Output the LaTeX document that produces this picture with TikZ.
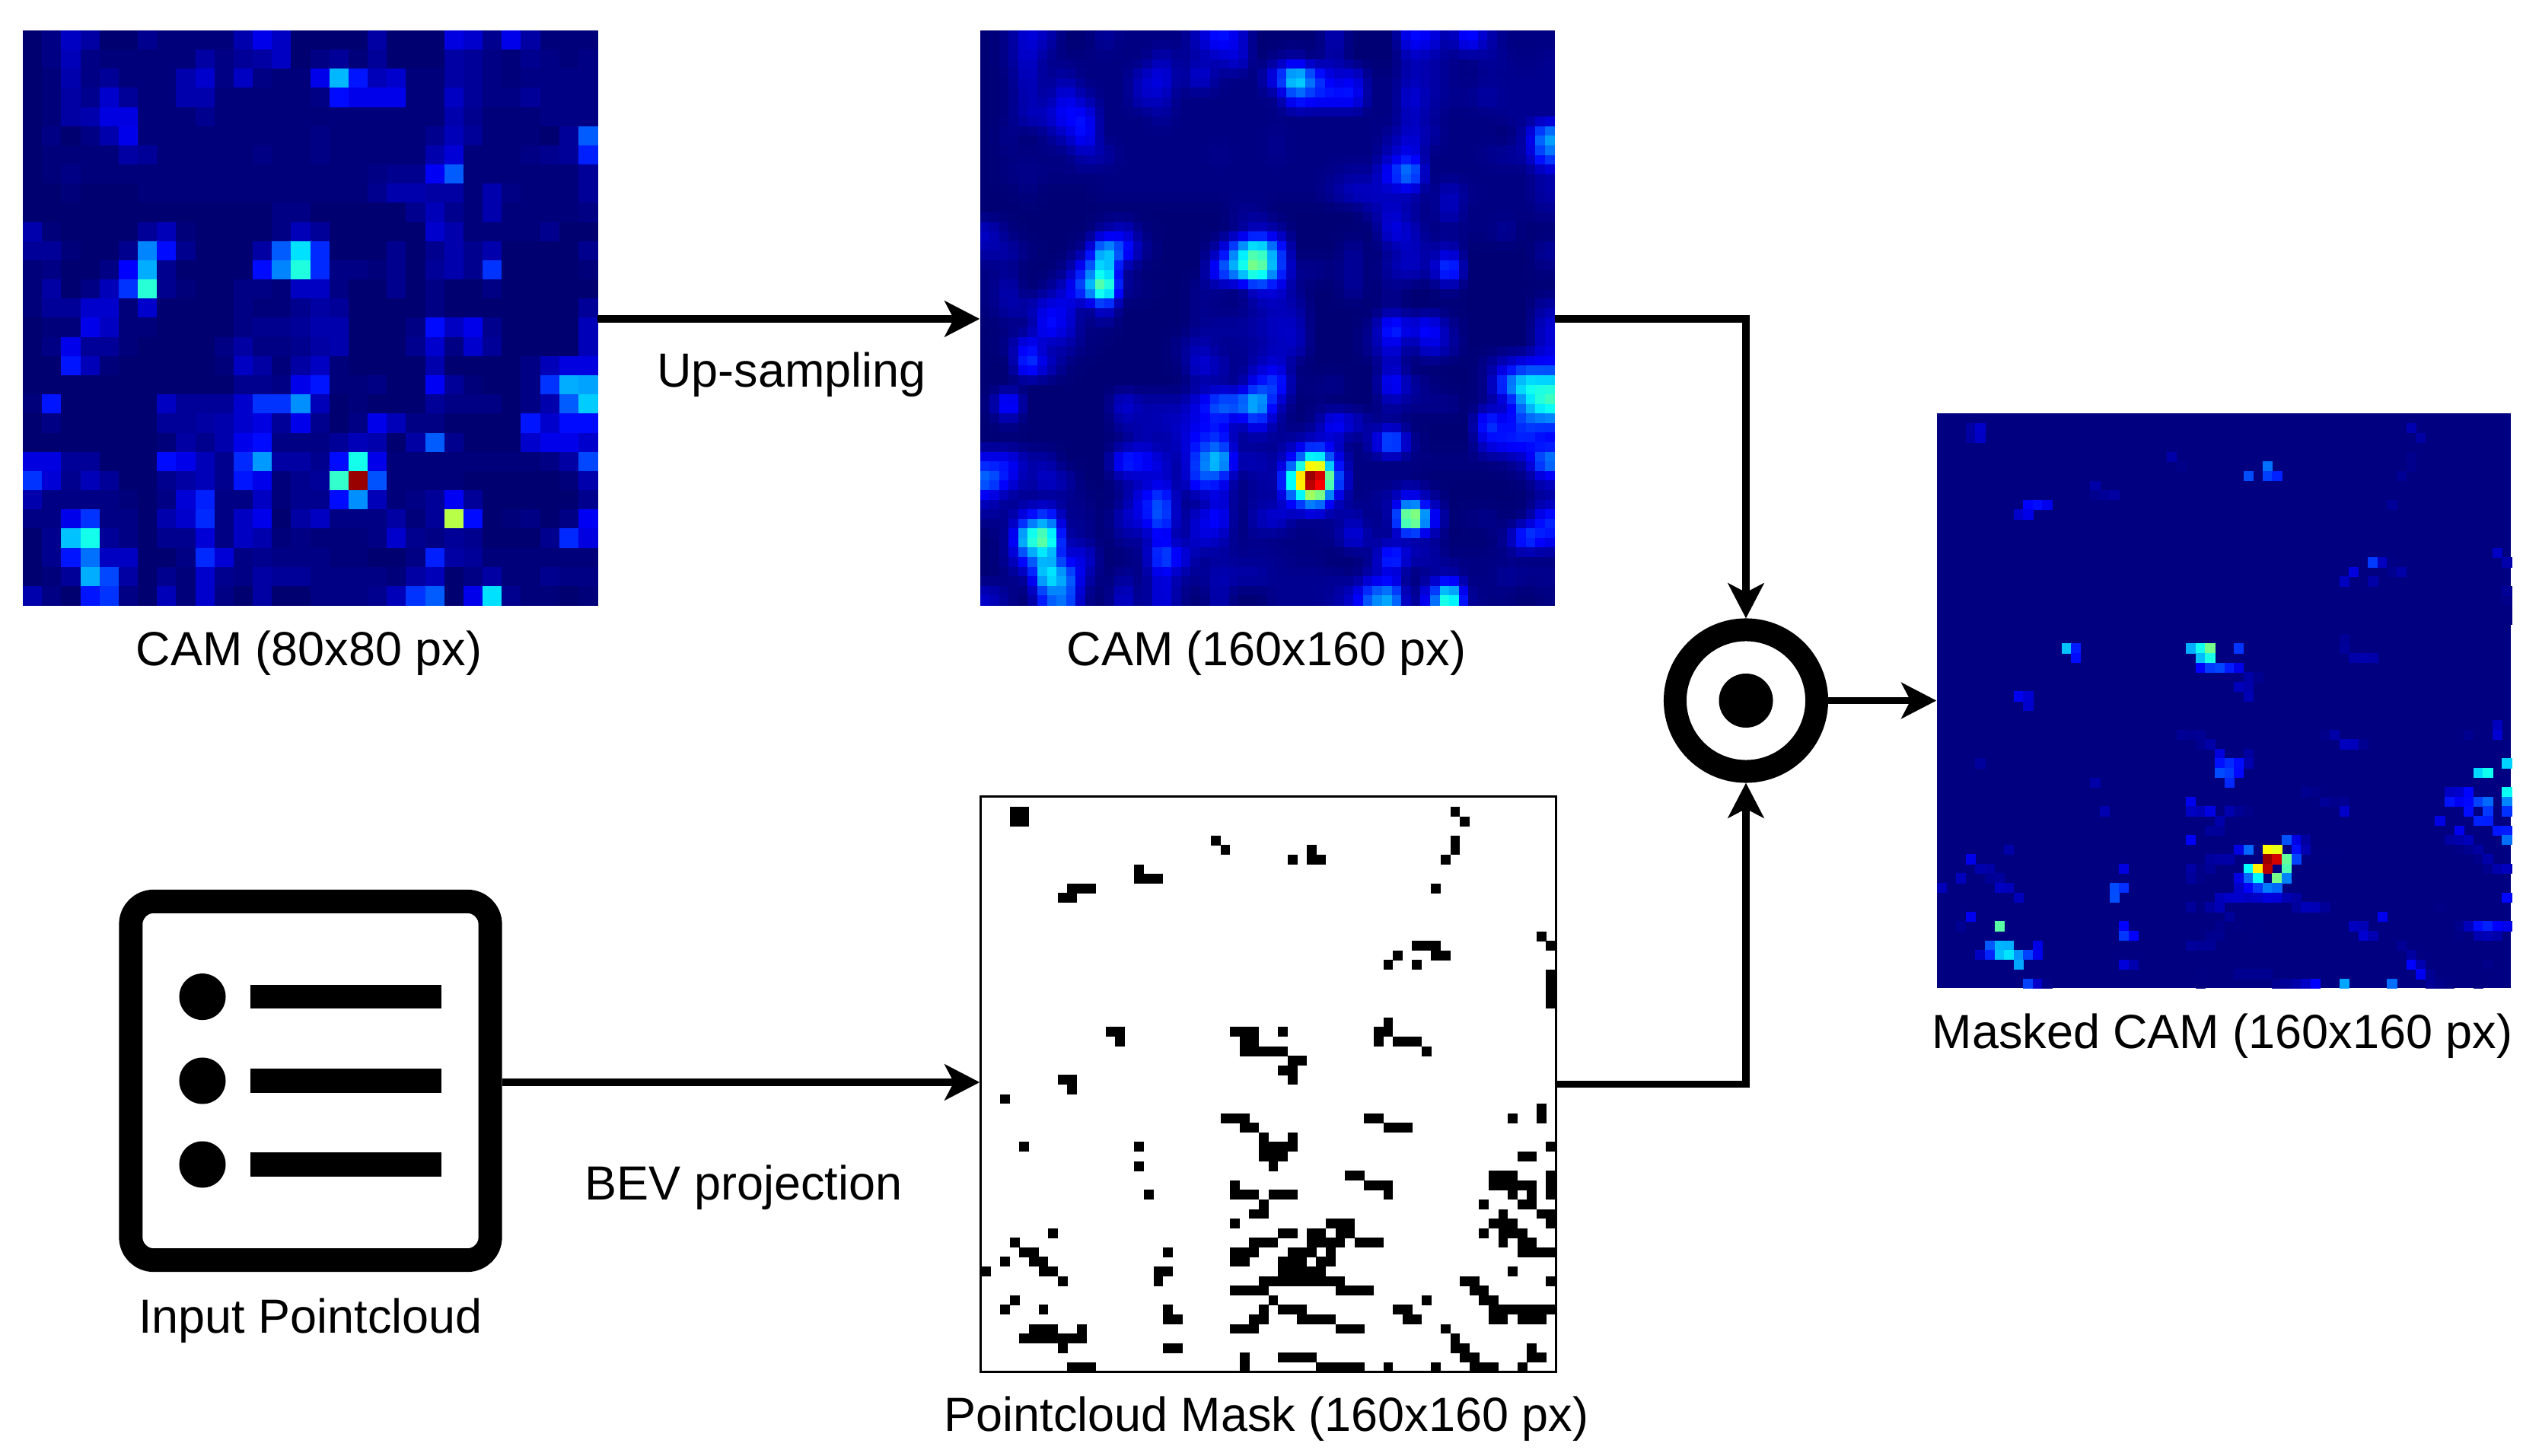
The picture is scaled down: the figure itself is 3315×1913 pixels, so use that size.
\documentclass[tikz,border=0pt]{standalone}
\usepackage{fontspec}
\setmainfont{Liberation Sans}
\usepackage{xcolor}
\usepackage{tikz}
\usetikzlibrary{arrows.meta}

% low resolution map, row by row, in percent
\newcommand{\camrows}{
{1,3,9,6,1,1,4,2,2,2,2,7,13,9,1,1,1,1,6,1,1,1,12,10,4,13,6,2,2,2},
{1,3,8,3,2,2,2,2,2,6,3,5,6,9,1,3,5,2,5,1,1,1,6,5,3,2,4,3,2,3},
{1,2,7,3,5,2,2,2,7,10,3,9,3,2,2,13,33,17,8,10,2,2,6,5,3,2,3,3,3,3},
{1,2,6,4,10,5,2,2,7,7,2,2,2,2,2,3,16,13,13,13,2,2,9,5,3,3,5,3,3,3},
{1,2,6,7,12,12,2,2,2,4,2,2,2,2,2,2,2,2,2,2,2,2,7,4,2,2,2,3,3,3},
{1,3,1,3,7,13,2,2,2,2,2,2,2,2,2,3,2,2,2,2,2,4,8,5,2,2,2,1,5,24},
{1,2,2,2,2,6,5,2,2,2,2,2,3,2,2,3,2,2,2,2,2,7,11,2,2,2,3,4,5,18},
{1,2,3,2,2,2,2,2,2,2,2,2,2,2,2,2,2,2,3,4,4,14,24,2,2,2,2,2,2,5},
{1,1,2,1,1,1,2,2,2,2,2,2,2,2,2,2,2,2,4,7,7,6,6,2,7,3,2,2,2,5},
{1,1,1,1,1,1,1,1,1,1,1,1,1,3,3,1,1,1,1,1,4,8,4,2,7,2,2,2,2,3},
{7,2,1,1,1,1,5,8,2,1,1,1,1,3,8,5,1,1,1,1,1,10,7,2,2,2,2,4,1,1},
{5,5,2,1,1,4,28,16,4,1,1,1,6,24,37,19,1,1,1,4,1,4,7,4,7,1,1,1,1,4},
{2,3,1,1,3,15,32,4,1,1,1,1,16,28,43,19,3,3,2,4,1,5,7,4,20,1,1,1,1,2},
{2,6,1,3,8,20,44,4,2,1,1,3,3,2,9,9,3,1,1,4,1,3,1,1,3,1,1,1,1,1},
{2,5,5,10,10,2,10,1,1,1,1,3,2,2,4,6,5,1,1,1,1,3,1,1,1,1,1,1,1,5},
{1,2,2,13,9,2,2,1,1,1,1,3,4,4,5,7,7,1,1,1,3,16,9,13,4,1,1,1,1,8},
{1,3,13,5,5,2,1,1,1,1,3,6,3,3,4,6,7,1,1,1,4,10,3,10,5,1,1,1,1,8},
{1,1,17,8,2,1,1,1,1,1,2,9,6,2,6,9,2,1,1,1,1,7,1,1,1,1,3,8,12,12},
{1,1,1,1,1,1,1,1,1,1,1,4,4,3,13,17,2,2,3,1,1,14,5,2,1,1,3,20,32,31},
{2,17,1,1,1,1,1,9,5,5,5,10,20,20,29,8,1,2,1,1,1,5,3,3,3,1,3,7,24,35},
{1,3,1,1,1,1,1,5,5,6,7,10,12,5,13,4,1,3,13,8,3,3,1,1,1,1,17,10,16,16},
{1,1,1,1,1,1,1,2,6,4,7,13,16,3,3,3,5,8,7,1,6,24,4,1,1,1,10,13,13,10},
{12,12,5,5,1,1,1,16,13,8,4,19,30,6,6,4,16,42,13,2,2,2,2,2,2,2,2,3,6,22},
{20,11,4,8,5,1,1,4,6,8,4,17,13,2,4,5,45,100,23,2,2,2,2,1,1,1,1,1,2,7},
{7,3,3,3,3,2,1,3,11,18,3,3,9,2,4,4,16,29,8,2,3,5,14,5,1,1,1,1,1,4},
{3,3,13,20,3,3,1,7,10,19,3,9,13,1,6,9,3,3,3,6,2,5,58,16,1,2,3,1,3,14},
{1,4,34,42,5,3,1,4,4,11,3,9,7,2,3,2,2,2,3,10,4,3,5,4,1,1,1,4,19,12},
{1,4,17,26,9,9,1,1,3,19,11,3,4,3,3,3,2,2,1,1,3,18,6,5,2,2,2,2,2,2},
{1,2,5,32,22,6,1,4,2,10,4,3,6,5,5,3,3,3,3,2,6,8,1,3,6,2,2,4,3,3},
{7,3,1,17,20,3,1,8,2,10,3,1,6,1,1,3,3,3,4,8,20,24,1,13,37,4,2,2,1,2}}

% occupied cells of the mask: row/{columns}
\newcommand{\maskrows}{
1/{3,4,49},2/{3,4,50},4/{24,49},5/{25,34,49},6/{32,34,35,48},7/{16},8/{16,17,18},
9/{9,10,11,47},10/{8,9},14/{58},15/{45,46,47,59},16/{43,47,48},17/{42,45},
18/{59},19/{59},20/{59},21/{59},23/{42},24/{13,14,26,27,28,31,41,42},
25/{14,27,28,41,43,44,45},26/{27,28,29,30,31,46},27/{32,33},28/{31,32},29/{8,9,32},
30/{9},31/{2},32/{58},33/{25,26,27,40,41,55,58},34/{27,28,42,43,44},35/{29,32},
36/{4,16,29,30,31,32,59},37/{29,30,31,56,57},38/{16,30},39/{38,39,53,54,55,59},
40/{26,40,41,42,53,54,55,56,57,59},41/{17,26,27,28,30,31,32,42,55,57,59},
42/{29,52,56,57},43/{28,29,54,58,59},44/{26,36,37,38,53,54,55,59},
45/{7,31,32,34,35,37,38,52,54,55,56},46/{3,28,29,30,34,35,36,37,39,40,41,54,56,57},
47/{4,5,19,26,27,28,32,33,34,36,56,57,58,59},48/{2,5,6,26,27,31,32,33,35,36},
49/{0,6,7,18,19,31,32,33,34,35,55},50/{8,18,29,30,31,32,33,34,35,36,37,50,51,59},
51/{26,27,28,29,37,38,39,40,51,52},52/{3,30,46,52,53},
53/{2,6,19,29,31,32,33,43,44,53,54,55,56,57,58,59},
54/{19,20,28,29,33,34,35,36,44,45,53,54,56,57,58},55/{5,6,7,10,26,27,28,37,38,39,48},
56/{4,5,6,7,8,9,10,49},57/{8,19,20,49,50,57},58/{27,31,32,33,34,50,51,57,58},
59/{9,10,11,27,35,36,37,38,39,42,47,51,52,53,56}}

% left, top, row, column, cell size, value
\newcommand{\heatcell}[6]{
    \pgfmathsetmacro{\jr}{min(1,max(0,1.5-abs(4*(#6-0.025)-3)))}
    \pgfmathsetmacro{\jg}{min(1,max(0,1.5-abs(4*(#6-0.025)-2)))}
    \pgfmathsetmacro{\jb}{min(1,max(0,1.5-abs(4*(#6-0.025)-1)))}
    \definecolor{heat}{rgb}{\jr,\jg,\jb}
    \fill[heat] (#1+#4*#5,#2+#3*#5) rectangle ++(#5+0.7,#5+0.7);
}

% value of the up-sampled map at row, column: left in \upv
\newcommand{\upsample}[2]{
    \pgfmathtruncatemacro{\ri}{floor(#1/2)}
    \pgfmathtruncatemacro{\ci}{floor(#2/2)}
    \pgfmathtruncatemacro{\rn}{max(0,min(29,\ri+2*mod(#1,2)-1))}
    \pgfmathtruncatemacro{\cn}{max(0,min(29,\ci+2*mod(#2,2)-1))}
    \edef\upexpr{(9*\csname cam-\ri-\ci\endcsname+3*\csname cam-\rn-\ci\endcsname
        +3*\csname cam-\ri-\cn\endcsname+\csname cam-\rn-\cn\endcsname)/(16*73.6)}
    \pgfmathsetmacro{\upv}{\upexpr}
}

\begin{document}
\begin{tikzpicture}[
        x=0.01cm, y=-0.01cm,
        font=\fontsize{17.9pt}{21pt}\selectfont,
        heatbox/.style={rectangle, minimum size=7.55cm, inner sep=0pt, outer sep=0pt},
        maskbox/.style={rectangle, draw=black, line width=0.3mm, minimum size=7.55cm, inner sep=0pt},
        iconbox/.style={rectangle, draw=black, line width=3.1mm, rounded corners=3mm,
            minimum width=4.72cm, minimum height=4.71cm, inner sep=0pt},
        bullet/.style={circle, fill=black, minimum size=6.1mm, inner sep=0pt},
        bar/.style={rectangle, fill=black, minimum width=2.51cm, minimum height=3.1mm, inner sep=0pt},
        ring/.style={circle, draw=black, line width=3mm, minimum size=1.86cm, inner sep=0pt},
        arr/.style={-{Stealth[length=4.6mm,width=4.7mm,inset=1.2mm]}, line width=0.95mm}
    ]
    \useasboundingbox (0,0) rectangle (3315,1913);

    % keep the low resolution values and draw them
    \foreach \rowvals [count=\rw from 0] in \camrows {
        \foreach \v [count=\cl from 0] in \rowvals {
            \expandafter\xdef\csname cam-\rw-\cl\endcsname{\v}
            \heatcell{30}{40}{\rw}{\cl}{25.167}{\v/100}
        }
    }

    % up-sampled map
    \foreach \rw in {0,...,59} {
        \foreach \cl in {0,...,59} {
            \upsample{\rw}{\cl}
            \heatcell{1287.5}{40}{\rw}{\cl}{12.583}{\upv}
        }
    }

    % mask and masked map
    \fill[black!0!blue!50!black] (2545,543.5) rectangle (3299,1297.5);
    \foreach \rw/\cols in \maskrows {
        \foreach \cl in \cols {
            \fill[black] (1289+\cl*12.583,1047.5+\rw*12.583) rectangle ++(12.9,12.9);
            \upsample{\rw}{\cl}
            \heatcell{2545}{543.5}{\rw}{\cl}{12.583}{max(\upv,0.025)}
        }
    }

    \node[heatbox] (camlow) at (407.5,419) {};
    \node[heatbox] (camup)  at (1665,419) {};
    \node[maskbox] (mask)   at (1666.5,1424.5) {};
    \node[heatbox] (masked) at (2922,920.5) {};

    \node[iconbox] (cloud) at (408,1420) {};
    \foreach \i/\ypos in {1/1309.6, 2/1420, 3/1530} {
        \node[bullet] (dot\i) at (266,\ypos) {};
        \node[bar]    (bar\i) at (454.5,\ypos) {};
    }

    \node[ring] (fuse) at (2294,920.5) {};
    \node[bullet, minimum size=7.1mm] (fusedot) at (fuse.center) {};

    \node (lowlab)    at (406,858.5)   {CAM (80x80 px)};
    \node (uplab)     at (1664,858.5)  {CAM (160x160 px)};
    \node (maskedlab) at (2920,1361.5) {Masked CAM (160x160 px)};
    \node (cloudlab)  at (408,1735.5)  {Input Pointcloud};
    \node (masklab)   at (1664,1864.5) {Pointcloud Mask (160x160 px)};
    \node (uplink)    at (1040,492.5)  {Up-sampling};
    \node (bevlink)   at (977,1560.5)  {BEV projection};

    \draw[arr] (camlow.east) -- (camup.west);
    \draw[arr] ([yshift=-0.2mm]cloud.east) -- ([yshift=-0.2mm]cloud.east -| mask.west);
    \draw[arr] (camup.east) -| (fuse.north);
    \draw[arr] (mask.east) -| (fuse.south);
    \draw[arr] (fuse.east) -- (masked.west);
\end{tikzpicture}
\end{document}
